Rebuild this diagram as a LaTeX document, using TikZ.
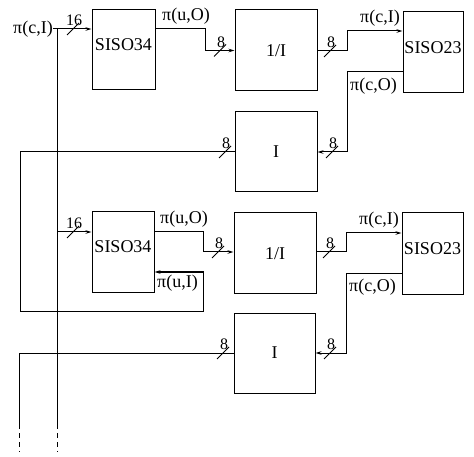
\documentclass[tikz,border=0pt]{standalone}
\usepackage{fontspec}
\setmainfont{Liberation Serif}
\usetikzlibrary{arrows.meta,calc}
\begin{document}
\begin{tikzpicture}[x=1pt,y=-1pt,
  blk/.style={draw,line width=1pt,minimum width=#1,inner sep=0pt},
  blk/.default=82pt,
  wire/.style={line width=1pt},
  arr/.style={wire,-{Stealth[length=6pt,width=3.5pt]}},
  lbl/.style={font=\fontsize{18}{20}\selectfont,inner sep=0pt},
  num/.style={font=\fontsize{16}{18}\selectfont,inner sep=0pt,anchor=south},
]
\useasboundingbox (0,0) rectangle (474,457);
\newcommand\busmark[2]{\draw[wire] ($(#1)+(-6,6)$) -- ($(#1)+(6,-6)$);
  \node[num] at ($(#1)+(1,-3)$) {#2};}
% ---------- blocks ----------
\node[blk=63pt,minimum height=80pt] (s34a) at (123.5,50) {};
\node[lbl] at (123.5,45) {SISO34};
\node[blk,minimum height=81pt] (ia1) at (276,50.5) {};
\node[lbl] at (276,51) {1/I};
\node[blk=60pt,minimum height=81pt] (s23a) at (433,52.5) {};
\node[lbl] at (433,48) {SISO23};
\node[blk,minimum height=80pt] (ia) at (276,152) {};
\node[lbl] at (276,152) {I};
\node[blk=62pt,minimum height=80pt] (s34b) at (123,252) {};
\node[lbl] at (123,247) {SISO34};
\node[blk,minimum height=80pt] (ib1) at (275,253) {};
\node[lbl] at (275,254) {1/I};
\node[blk=61pt,minimum height=81pt] (s23b) at (432.5,253.5) {};
\node[lbl] at (432.5,249) {SISO23};
\node[blk=81pt,minimum height=80pt] (ib) at (274.5,353) {};
\node[lbl] at (274.5,353) {I};
% ---------- input ----------
\node[lbl,anchor=east] (pin) at (53,29) {π(c,I)};
\coordinate (j) at (57,29);
\draw[arr] (pin.east) -- (s34a.west |- pin.east);
\coordinate (vend) at (57,424);
\draw[wire] (j) -- (vend);
\draw[wire,dash pattern=on 5pt off 4pt] (vend) -- (57,452);
\busmark{73,29}{16}
% ---------- top row ----------
\coordinate (a1) at (205,29); \coordinate (a2) at (205,50.5);
\draw[arr] (s34a.east |- a1) -- (a1) -- (a2) -- (ia1.west |- a2);
\node[lbl,anchor=south] at (186,25) {π(u,O)};
\busmark{220,50.5}{8}
\coordinate (b1) at (347,51); \coordinate (b2) at (347,31);
\draw[arr] (ia1.east |- b1) -- (b1) -- (b2) -- (s23a.west |- b2);
\busmark{330,51}{8}
\node[lbl,anchor=south] at (380,27) {π(c,I)};
\coordinate (c1) at (347,72); \coordinate (c2) at (347,152);
\draw[arr] (s23a.west |- c1) -- (c1) -- (c2) -- (ia.east |- c2);
\busmark{332,152}{8}
\node[lbl,anchor=north west] at (350,78) {π(c,O)};
% feedback from I (top) to SISO34 (bottom)
\coordinate (d1) at (20,152); \coordinate (d2) at (20,311);
\coordinate (d3) at (203,311); \coordinate (d4) at (203,272);
\draw[arr] (ia.west) -- (d1) -- (d2) -- (d3) -- (d4) -- (s34b.east |- d4);
\busmark{225,152}{8}
\node[lbl,anchor=north west] at (157,275) {π(u,I)};
% ---------- bottom row ----------
\coordinate (e1) at (57,232);
\draw[arr] (e1) -- (s34b.west |- e1);
\busmark{73,232}{16}
\coordinate (f1) at (203,232); \coordinate (f2) at (203,252);
\draw[arr] (s34b.east |- f1) -- (f1) -- (f2) -- (ib1.west |- f2);
\node[lbl,anchor=south] at (184,228) {π(u,O)};
\busmark{218,252}{8}
\coordinate (g1) at (346,252); \coordinate (g2) at (346,233);
\draw[arr] (ib1.east |- g1) -- (g1) -- (g2) -- (s23b.west |- g2);
\busmark{329,252}{8}
\node[lbl,anchor=south] at (379,229) {π(c,I)};
\coordinate (h1) at (346,273); \coordinate (h2) at (346,353);
\draw[arr] (s23b.west |- h1) -- (h1) -- (h2) -- (ib.east |- h2);
\busmark{330,353}{8}
\node[lbl,anchor=north west] at (349,279) {π(c,O)};
\coordinate (k1) at (19,353); \coordinate (k2) at (19,424);
\draw[wire] (ib.west) -- (k1) -- (k2);
\draw[wire,dash pattern=on 5pt off 4pt] (k2) -- (19,452);
\busmark{223,353}{8}
\end{tikzpicture}
\end{document}
